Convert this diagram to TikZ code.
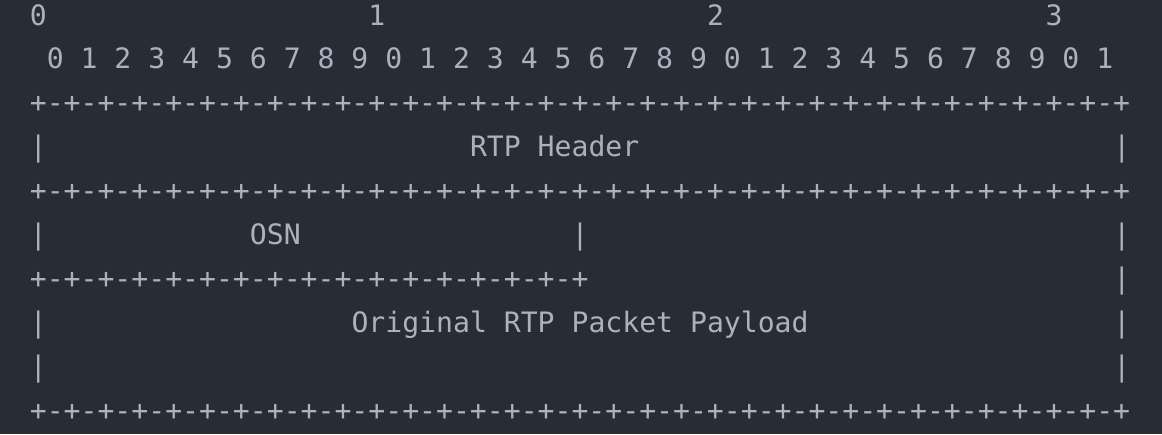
\documentclass[tikz,border=0pt]{standalone}
\usepackage{fontspec}
\setmonofont{DejaVu Sans Mono}
\definecolor{termbg}{HTML}{282C34}
\definecolor{termfg}{HTML}{ABB2BF}
\tikzset{
  ascii/.style={anchor=base west, inner sep=0pt, outer sep=0pt, text=termfg,
    font=\ttfamily\fontsize{28.12}{44}\selectfont},
}
\begin{document}
\begin{tikzpicture}[x=16.93pt, y=-43.9pt]
			%%%%% START %%%%%
			
			\fill[termbg] (-1.7625, -0.5695) rectangle (66.873, 9.3166);
			\useasboundingbox (-1.7625, -0.5695) rectangle (66.873, 9.3166);
			
			\node[ascii] (tens0) at (0, 0) {0};
			\node[ascii] (tens1) at (20, 0) {1};
			\node[ascii] (tens2) at (40, 0) {2};
			\node[ascii] (tens3) at (60, 0) {3};
			\node[ascii] (units) at (1, 1) {0 1 2 3 4 5 6 7 8 9 0 1 2 3 4 5 6 7 8 9 0 1 2 3 4 5 6 7 8 9 0 1};
			
			\node[ascii] (ruleTop) at (0, 2) {+-+-+-+-+-+-+-+-+-+-+-+-+-+-+-+-+-+-+-+-+-+-+-+-+-+-+-+-+-+-+-+-+};
			
			\node[ascii] (barHdrL) at (0, 3) {|};
			\node[ascii] (rtpHdr) at (26, 3) {RTP Header};
			\node[ascii] (barHdrR) at (64, 3) {|};
			
			\node[ascii] (ruleHdr) at (0, 4) {+-+-+-+-+-+-+-+-+-+-+-+-+-+-+-+-+-+-+-+-+-+-+-+-+-+-+-+-+-+-+-+-+};
			
			\node[ascii] (barOsnL) at (0, 5) {|};
			\node[ascii] (osn) at (13, 5) {OSN};
			\node[ascii] (barOsnM) at (32, 5) {|};
			\node[ascii] (barOsnR) at (64, 5) {|};
			
			\node[ascii] (ruleOsn) at (0, 6) {+-+-+-+-+-+-+-+-+-+-+-+-+-+-+-+-+};
			\node[ascii] (barMidR) at (64, 6) {|};
			
			\node[ascii] (barPayL) at (0, 7) {|};
			\node[ascii] (payload) at (19, 7) {Original RTP Packet Payload};
			\node[ascii] (barPayR) at (64, 7) {|};
			
			\node[ascii] (barEndL) at (0, 8) {|};
			\node[ascii] (barEndR) at (64, 8) {|};
			
			\node[ascii] (ruleEnd) at (0, 9) {+-+-+-+-+-+-+-+-+-+-+-+-+-+-+-+-+-+-+-+-+-+-+-+-+-+-+-+-+-+-+-+-+};
			
			%%%%% END %%%%%
		\end{tikzpicture}
\end{document}
